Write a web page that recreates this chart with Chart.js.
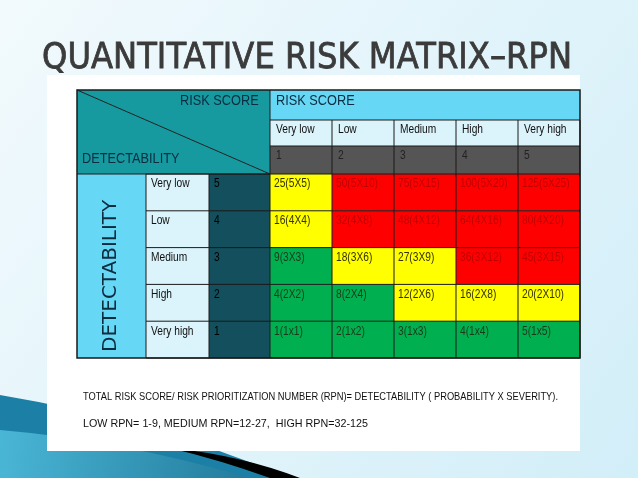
<!DOCTYPE html>
<html><head><meta charset="utf-8">
<script src="https://cdn.jsdelivr.net/npm/chart.js@4"></script>
<style>html,body{margin:0;padding:0;overflow:hidden}canvas{display:block}</style>
</head><body>
<canvas id="c" width="638" height="478"></canvas>
<script>
const severityLabels = ["Very low","Low","Medium","High","Very high"];
const severityScores = [1,2,3,4,5];
const detectLabels = ["Very low","Low","Medium","High","Very high"];
const detectScores = [5,4,3,2,1];
const cellLabels = [
 ["25(5X5)","50(5X10)","75(5X15)","100(5X20)","125(5X25)"],
 ["16(4X4)","32(4X8)","48(4X12)","64(4X16)","80(4X20)"],
 ["9(3X3)","18(3X6)","27(3X9)","36(3X12)","45(3X15)"],
 ["4(2X2)","8(2X4)","12(2X6)","16(2X8)","20(2X10)"],
 ["1(1x1)","2(1x2)","3(1x3)","4(1x4)","5(1x5)"]
];
const rpnValues = [
 [25,50,75,100,125],
 [16,32,48,64,80],
 [9,18,27,36,45],
 [4,8,12,16,20],
 [1,2,3,4,5]
];
const title = "QUANTITATIVE RISK MATRIX\u2013RPN";
const note1 = "TOTAL RISK SCORE/ RISK PRIORITIZATION NUMBER (RPN)= DETECTABILITY ( PROBABILITY X SEVERITY).";
const note2 = "LOW RPN= 1-9, MEDIUM RPN=12-27,  HIGH RPN=32-125";

function level(v){ return v<=9?0:(v<=27?1:2); }
const fillCols=["#00b050","#ffff00","#ff0000"];
const textCols=["#1a3a1a","#333300","#c00000"];

const pts=[];
rpnValues.forEach((row,r)=>row.forEach((v,c)=>pts.push({x:c+0.5,y:4.5-r,v:v,r:r,c:c})));

const F="'Liberation Sans',sans-serif";
function cText(x,s,px,py,sx){x.save();x.translate(px,py);x.scale(sx,1);x.fillText(s,0,0);x.restore();}
function fitText(x,s,px,py,w){cText(x,s,px,py,w/x.measureText(s).width);}
const bg={id:'bg',beforeDraw(ch){
 const x=ch.ctx;
 const g=x.createLinearGradient(0,0,638,478);
 g.addColorStop(0,'#f2fafd');g.addColorStop(1,'#d2eef8');
 x.fillStyle=g;x.fillRect(0,0,638,478);
 x.fillStyle='#1c7fa6';
 x.beginPath();x.moveTo(0,395);x.quadraticCurveTo(150,420,290,478);x.lineTo(0,478);x.closePath();x.fill();
 const g2=x.createLinearGradient(0,440,300,478);g2.addColorStop(0,'#4ab6d6');g2.addColorStop(1,'#1a6f90');
 x.fillStyle=g2;x.beginPath();x.moveTo(0,430);x.quadraticCurveTo(120,440,250,478);x.lineTo(0,478);x.closePath();x.fill();
 x.fillStyle='#000';x.beginPath();x.moveTo(170,448);x.quadraticCurveTo(240,455,300,478);x.lineTo(270,478);x.quadraticCurveTo(220,460,170,448);x.fill();
 x.fillStyle='#fff';x.fillRect(47,75,533,376);
 x.fillStyle='#3b3b3b';x.font="35px 'DejaVu Sans',sans-serif";x.textBaseline='alphabetic';
 x.strokeStyle='#3b3b3b';x.lineWidth=0.8;
 x.save();const w=x.measureText(title).width;x.translate(42,68);x.scale(530/w,1);x.fillText(title,0,0);x.strokeText(title,0,0);x.restore();
 x.fillStyle='#111';x.font="10.5px "+F;fitText(x,note1,83,400,475);fitText(x,note2,83,427,285);
}};
const grid={id:'grid',afterDatasetsDraw(ch){
 const x=ch.ctx,xs=ch.scales.x,ys=ch.scales.y;
 const X=i=>xs.getPixelForValue(i),Y=j=>ys.getPixelForValue(j);
 const L=X(0),R=X(5),T=Y(5),B=Y(0);
 const sx=0.85;
 x.save();x.textBaseline='top';
 x.fillStyle='#169aa0';x.fillRect(77,90,L-77,T-90);
 x.fillStyle='#66d8f5';x.fillRect(L,90,R-L,30);
 x.fillStyle='#dbf3fa';x.fillRect(L,120,R-L,26);
 x.fillStyle='#555555';x.fillRect(L,146,R-L,T-146);
 x.strokeStyle='#222';x.lineWidth=1;
 x.beginPath();x.moveTo(77,90);x.lineTo(L,T);x.stroke();
 x.font="15px "+F;x.fillStyle='#0c2c40';
 x.textAlign='left';
 cText(x,"RISK SCORE",180,93,sx);cText(x,"RISK SCORE",L+6,93,sx);cText(x,"DETECTABILITY",82,151,sx);
 x.font="12px "+F;
 severityLabels.forEach((s,i)=>{x.fillStyle='#111';cText(x,s,X(i)+6,124,sx);x.fillStyle='#222';cText(x,String(severityScores[i]),X(i)+6,150,sx);});
 x.fillStyle='#66d8f5';x.fillRect(77,T,69,B-T);
 x.fillStyle='#dbf3fa';x.fillRect(146,T,63,B-T);
 x.fillStyle='#134f5c';x.fillRect(209,T,L-209,B-T);
 x.save();x.translate(111,352);x.rotate(-Math.PI/2);x.font="20px 'DejaVu Sans',sans-serif";x.fillStyle='#0c2c40';x.textBaseline='middle';x.fillText("DETECTABILITY",0,0);x.restore();
 x.font="12px "+F;
 detectLabels.forEach((s,r)=>{const yt=Y(5-r);x.fillStyle='#111';cText(x,s,151,yt+4,sx);x.fillStyle='#000';cText(x,String(detectScores[r]),214,yt+4,sx);});
 pts.forEach(p=>{const lv=level(p.v);const x0=X(p.c),y0=Y(5-p.r);
  x.fillStyle=fillCols[lv];x.fillRect(x0,y0,X(p.c+1)-x0,Y(4-p.r)-y0);
  x.fillStyle=textCols[lv];cText(x,cellLabels[p.r][p.c],x0+4,y0+4,sx);});
 x.strokeStyle='#1a1a1a';x.lineWidth=1;x.beginPath();
 for(let j=0;j<=5;j++){x.moveTo(146,Y(j));x.lineTo(R,Y(j));}
 [120,146].forEach(y=>{x.moveTo(L,y);x.lineTo(R,y);});
 for(let i=0;i<=5;i++){x.moveTo(X(i),i==0?90:120);x.lineTo(X(i),B);}
 [146,209].forEach(v=>{x.moveTo(v,T);x.lineTo(v,B);});
 x.moveTo(77,T);x.lineTo(L,T);
 x.stroke();
 x.lineWidth=1.5;x.strokeRect(77,90,R-77,B-90);
 x.restore();
}};
new Chart(document.getElementById('c'),{type:'scatter',
 data:{datasets:[{data:pts,pointRadius:0}]},
 options:{responsive:false,animation:false,
  layout:{padding:{left:270,top:174,right:58,bottom:120}},
  plugins:{legend:{display:false},tooltip:{enabled:false}},
  scales:{x:{type:'linear',min:0,max:5,display:false},y:{type:'linear',min:0,max:5,display:false}}},
 plugins:[bg,grid]});
</script></body></html>
